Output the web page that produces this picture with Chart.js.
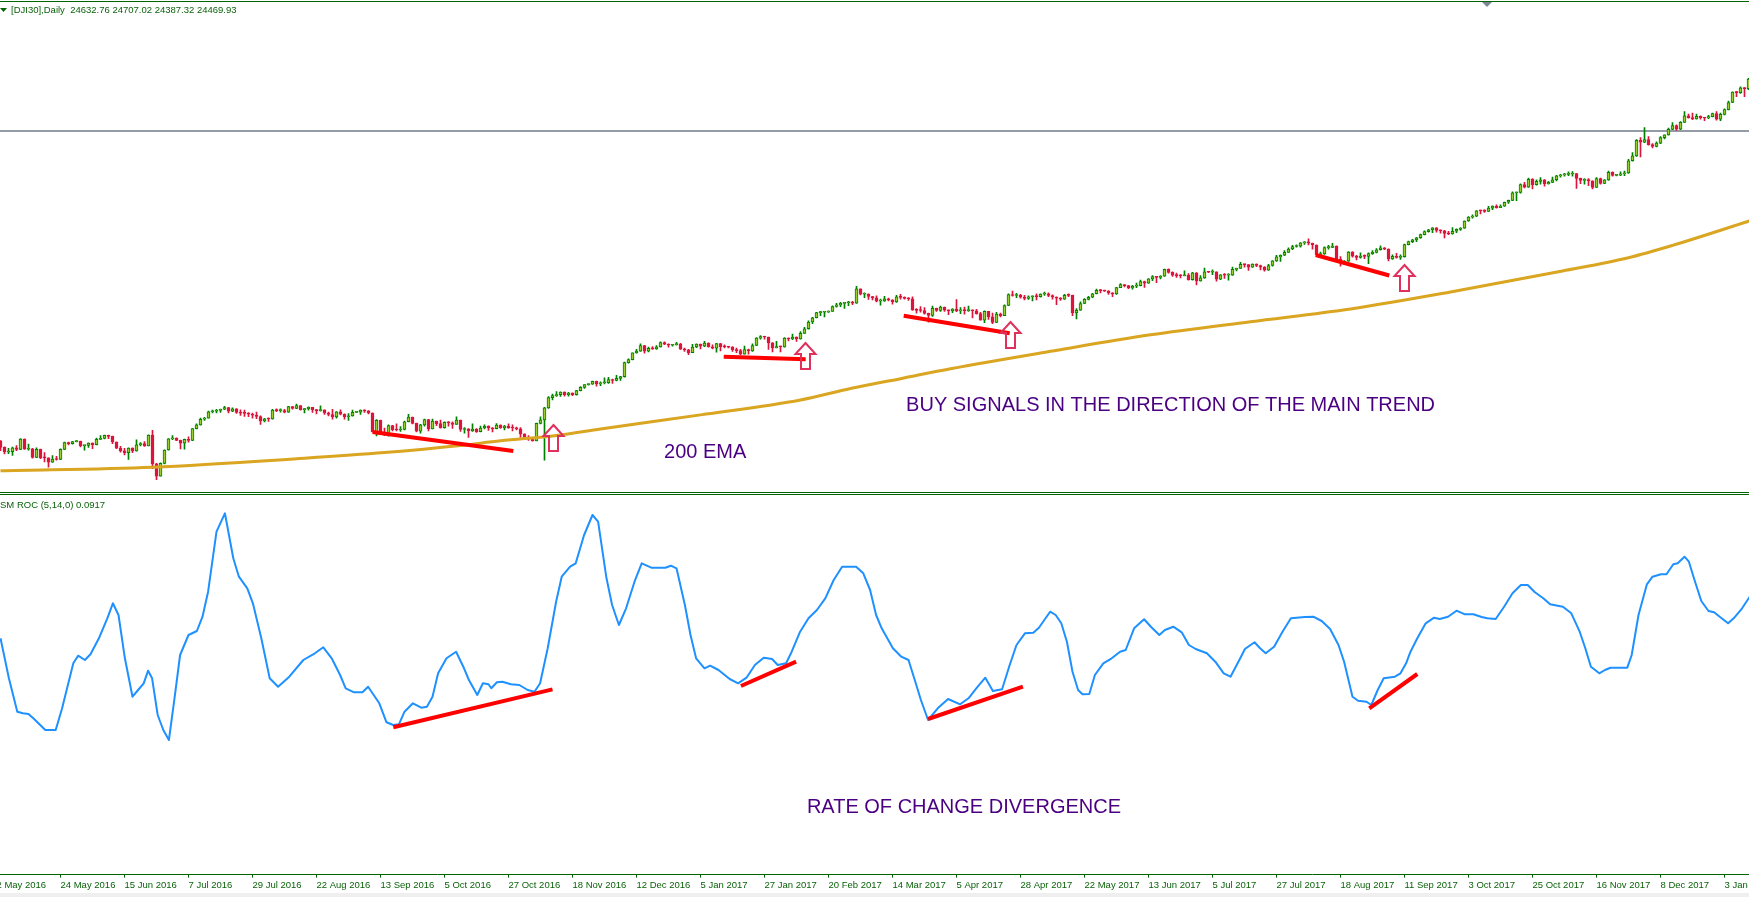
<!DOCTYPE html>
<html lang="en">
<head>
<meta charset="UTF-8">
<title>[DJI30],Daily</title>
<script src="https://cdn.jsdelivr.net/npm/chart.js"></script>
<style>
  html, body { margin: 0; padding: 0; background: #fff; overflow: hidden; }
  canvas { display: block; }
</style>
</head>
<body>
<canvas id="chart" width="1749" height="897"></canvas>
<script>
// daily bars, index 0 = 3 May 2016 ... 437 = 11 Jan 2018
const barOpen = [
  17891,17751,17651,17661,17741,17706,17928,17711,17721,17535,
  17711,17530,17527,17435,17501,17493,17706,17852,17828,17873,
  17880,17787,17790,17839,17807,17920,17938,18005,17985,17865,
  17732,17675,17640,17733,17675,17805,17830,17781,18011,17400,
  17140,17410,17695,17930,17949,17900,17841,17919,17896,18147,
  18227,18348,18372,18506,18517,18533,18559,18595,18517,18571,
  18493,18474,18472,18456,18432,18405,18314,18355,18352,18544,
  18529,18533,18496,18614,18576,18636,18552,18574,18598,18553,
  18529,18547,18481,18448,18395,18503,18454,18401,18419,18492,
  18500,18538,18526,18480,18085,18325,18067,18035,18212,18124,
  18120,18130,18294,18392,18261,18095,18228,18339,18143,18308,
  18254,18168,18281,18269,18240,18329,18129,18144,18099,18138,
  18086,18162,18203,18162,18146,18223,18169,18199,18170,18161,
  18142,18037,17960,17931,17888,18260,18333,18590,18808,18848,
  18869,18923,18868,18904,18868,18957,19024,19083,19090,19152,
  19098,19122,19124,19192,19170,19216,19252,19550,19615,19757,
  19796,19911,19793,19852,19843,19883,19975,19942,19919,19934,
  19945,19834,19820,19763,19882,19942,19899,19964,19887,19856,
  19954,19891,19886,19880,19827,19805,19732,19827,19800,19913,
  20069,20101,20094,19971,19864,19891,19885,20071,20052,20090,
  20054,20172,20269,20412,20504,20612,20620,20624,20640,20743,
  20776,20810,20822,20837,20812,21116,21003,21006,20954,20925,
  20856,20858,20903,20881,20837,20950,20935,20915,20906,20668,
  20661,20657,20597,20551,20702,20659,20728,20663,20650,20689,
  20648,20663,20656,20658,20651,20592,20453,20637,20523,20404,
  20579,20548,20764,20996,20975,20981,20941,20913,20950,20958,
  20951,21007,21012,20976,20943,20919,20897,20982,20980,20607,
  20663,20805,20895,20938,21012,21083,21080,21070,21029,21009,
  21144,21206,21184,21136,21174,21183,21272,21236,21328,21375,
  21360,21384,21529,21467,21410,21397,21395,21410,21311,21455,
  21287,21350,21479,21470,21478,21320,21414,21409,21409,21532,
  21553,21638,21630,21575,21641,21612,21580,21513,21613,21711,
  21797,21830,21891,21964,22016,22026,22093,22118,22085,22049,
  21844,21858,21994,21999,22025,21751,21675,21704,21900,21812,
  21783,21814,21808,21865,21892,21948,21988,21960,21753,21808,
  21785,21798,22057,22119,22158,22203,22268,22331,22371,22413,
  22359,22350,22296,22284,22341,22381,22405,22558,22642,22662,
  22775,22774,22761,22831,22873,22841,22872,22957,22997,23158,
  23163,23329,23274,23442,23329,23401,23434,23349,23377,23435,
  23516,23539,23548,23557,23563,23462,23422,23440,23409,23271,
  23458,23358,23430,23591,23526,23530,23558,23581,23837,23941,
  24272,24232,24290,24181,24141,24211,24329,24386,24505,24585,
  24509,24652,24792,24755,24727,24782,24754,24746,24774,24838,
  24719,24824,24923,25075,25296,25283,25386,25369
];
const barHigh = [
  17895,17760,17730,17755,17790,17935,17930,17820,17730,17740,
  17715,17640,17530,17575,17560,17720,17860,17860,17880,17895,
  17885,17800,17845,17845,17950,18000,18010,18010,17990,17870,
  17770,17730,17740,17740,17910,17850,17875,18015,18110,17410,
  17420,17700,17935,18000,17955,17905,17925,17975,18150,18250,
  18370,18390,18520,18540,18560,18565,18620,18600,18590,18575,
  18550,18540,18490,18480,18500,18420,18365,18380,18560,18570,
  18570,18560,18620,18620,18670,18640,18580,18610,18600,18560,
  18630,18550,18500,18560,18510,18550,18460,18470,18540,18510,
  18545,18550,18530,18485,18340,18330,18160,18230,18220,18250,
  18190,18310,18450,18395,18265,18240,18350,18345,18350,18310,
  18330,18290,18300,18290,18400,18330,18170,18150,18250,18150,
  18200,18230,18210,18170,18255,18230,18220,18250,18230,18180,
  18170,18040,18000,17960,18265,18400,18600,18830,18880,18935,
  18930,18930,18920,18910,18960,19040,19085,19100,19160,19160,
  19140,19225,19240,19200,19280,19260,19560,19630,19760,19830,
  19950,19920,19880,19890,19910,19990,19990,19950,19940,19980,
  19960,19860,19830,19940,19950,19945,20000,19970,19930,19960,
  19960,19930,19895,19890,19860,19830,19900,19840,19950,20080,
  20125,20110,20095,19975,20000,19900,20080,20075,20155,20100,
  20210,20300,20440,20510,20620,20640,20630,20650,20757,20810,
  20830,20830,20850,20850,21170,21120,21030,21010,20960,20970,
  20900,20960,20920,20890,20980,21000,20950,20930,20950,20700,
  20740,20720,20600,20750,20710,20750,20730,20670,20700,20890,
  20720,20730,20750,20670,20680,20620,20650,20640,20600,20620,
  20600,20780,21010,21070,21020,21000,20980,20970,20970,21010,
  21010,21050,21030,20990,20950,20930,21000,21010,20985,20700,
  20840,20910,20960,21020,21110,21100,21090,21080,21040,21150,
  21230,21210,21190,21190,21240,21305,21280,21335,21400,21380,
  21400,21535,21540,21480,21450,21420,21500,21440,21470,21460,
  21400,21560,21490,21520,21480,21420,21440,21440,21580,21560,
  21680,21640,21630,21650,21650,21620,21590,21640,21720,21830,
  21840,21930,21990,22040,22050,22100,22120,22180,22090,22050,
  21900,22010,22040,22085,22030,21800,21720,21910,21910,21830,
  21880,21840,21880,21930,21970,22030,21995,21965,21840,21870,
  21840,22070,22130,22170,22210,22280,22350,22380,22420,22420,
  22370,22360,22340,22420,22390,22420,22560,22650,22690,22780,
  22790,22800,22870,22880,22900,22900,22960,23000,23180,23170,
  23350,23380,23470,23460,23430,23480,23440,23400,23490,23530,
  23550,23570,23600,23610,23570,23470,23460,23460,23410,23480,
  23470,23440,23620,23600,23545,23600,23620,23870,24010,24290,
  24330,24540,24350,24200,24240,24350,24390,24530,24650,24600,
  24670,24880,24830,24850,24830,24790,24760,24800,24850,24880,
  24850,24940,25105,25300,25310,25410,25390,25590
];
const barLow = [
  17680,17610,17615,17580,17680,17700,17705,17690,17520,17530,
  17510,17440,17330,17430,17480,17490,17700,17800,17820,17865,
  17760,17690,17750,17720,17800,17915,17930,17935,17830,17725,
  17650,17590,17495,17640,17670,17780,17770,17780,17300,17063,
  17140,17400,17690,17915,17890,17715,17710,17860,17890,18140,
  18220,18320,18370,18480,18480,18490,18550,18480,18510,18470,
  18430,18410,18400,18370,18360,18240,18290,18300,18350,18510,
  18500,18480,18490,18560,18570,18540,18480,18540,18490,18460,
  18520,18450,18420,18350,18370,18440,18350,18320,18415,18485,
  18450,18490,18460,18080,17995,18030,18000,17990,18100,18100,
  18090,18120,18290,18250,18080,18050,18200,18100,18140,18210,
  18160,18160,18200,18150,18235,18090,18050,17960,18090,18070,
  18080,18140,18110,18080,18140,18150,18120,18150,18100,18120,
  17960,17950,17900,17880,17885,18250,17480,18580,18760,18830,
  18830,18840,18840,18850,18860,18950,19000,19070,19085,19050,
  19060,19100,19110,19110,19160,19170,19240,19540,19610,19750,
  19790,19750,19780,19830,19830,19880,19930,19880,19900,19920,
  19830,19790,19720,19760,19870,19840,19890,19880,19840,19770,
  19800,19860,19865,19790,19760,19720,19730,19730,19790,19910,
  20050,20050,19830,19780,19860,19780,19880,20010,20040,20000,
  20050,20170,20260,20380,20500,20550,20520,20615,20640,20730,
  20740,20700,20760,20780,20810,20990,20930,20890,20880,20840,
  20770,20850,20860,20790,20830,20900,20900,20870,20660,20600,
  20620,20580,20410,20530,20640,20640,20640,20570,20610,20630,
  20590,20580,20640,20500,20580,20450,20400,20470,20380,20400,
  20520,20545,20760,20960,20930,20920,20880,20890,20860,20880,
  20940,20980,20950,20900,20780,20870,20890,20950,20550,20480,
  20660,20800,20880,20930,21010,21030,21060,21000,20950,21000,
  21140,21160,21120,21110,21140,21180,21150,21230,21290,21250,
  21330,21380,21450,21380,21360,21350,21390,21300,21300,21200,
  21280,21340,21460,21420,21280,21310,21340,21300,21400,21500,
  21550,21580,21510,21570,21590,21520,21490,21510,21600,21700,
  21700,21820,21890,21950,22000,22000,22060,22050,21960,21830,
  21800,21850,21960,21990,21740,21600,21640,21700,21790,21730,
  21770,21760,21650,21850,21880,21940,21950,21710,21740,21770,
  21740,21790,22050,22100,22120,22190,22260,22320,22310,22320,
  22300,22200,22270,22280,22310,22360,22400,22550,22620,22650,
  22710,22740,22760,22800,22830,22840,22870,22930,22990,22990,
  23150,23260,23270,23240,23320,23340,23300,23340,23370,23410,
  23490,23510,23520,23510,23250,23350,23340,23310,23240,23270,
  23340,23350,23420,23510,23515,23520,23520,23570,23830,23930,
  23920,24220,24170,24110,24130,24200,24300,24380,24500,24480,
  24500,24650,24740,24710,24720,24720,24690,24730,24770,24700,
  24690,24810,24920,25070,25200,25270,25200,25350
];
const barClose = [
  17751,17651,17661,17741,17706,17928,17711,17721,17535,17711,
  17530,17527,17435,17501,17493,17706,17852,17828,17873,17880,
  17787,17790,17839,17807,17920,17938,18005,17985,17865,17732,
  17675,17640,17733,17675,17805,17830,17781,18011,17400,17140,
  17410,17695,17930,17949,17900,17841,17919,17896,18147,18227,
  18348,18372,18506,18517,18533,18559,18595,18517,18571,18493,
  18474,18472,18456,18432,18405,18314,18355,18352,18544,18529,
  18533,18496,18614,18576,18636,18552,18574,18598,18553,18529,
  18547,18481,18448,18395,18503,18454,18401,18419,18492,18500,
  18538,18526,18480,18085,18325,18067,18035,18212,18124,18120,
  18130,18294,18392,18261,18095,18228,18339,18143,18308,18254,
  18168,18281,18269,18240,18329,18129,18144,18099,18138,18086,
  18162,18203,18162,18146,18223,18169,18199,18170,18161,18142,
  18037,17960,17931,17888,18260,18333,18590,18808,18848,18869,
  18923,18868,18904,18868,18957,19024,19083,19090,19152,19098,
  19122,19124,19192,19170,19216,19252,19550,19615,19757,19796,
  19911,19793,19852,19843,19883,19975,19942,19919,19934,19945,
  19834,19820,19763,19882,19942,19899,19964,19887,19856,19954,
  19891,19886,19880,19827,19805,19732,19827,19800,19913,20069,
  20101,20094,19971,19864,19891,19885,20071,20052,20090,20054,
  20172,20269,20412,20504,20612,20620,20624,20640,20743,20776,
  20810,20822,20837,20812,21116,21003,21006,20954,20925,20856,
  20858,20903,20881,20837,20950,20935,20915,20906,20668,20661,
  20657,20597,20551,20702,20659,20728,20663,20650,20689,20648,
  20663,20656,20658,20651,20592,20453,20637,20523,20404,20579,
  20548,20764,20996,20975,20981,20941,20913,20950,20958,20951,
  21007,21012,20976,20943,20919,20897,20982,20980,20607,20663,
  20805,20895,20938,21012,21083,21080,21070,21029,21009,21144,
  21206,21184,21136,21174,21183,21272,21236,21328,21375,21360,
  21384,21529,21467,21410,21397,21395,21410,21311,21455,21287,
  21350,21479,21470,21478,21320,21414,21409,21409,21532,21553,
  21638,21630,21575,21641,21612,21580,21513,21613,21711,21797,
  21830,21891,21964,22016,22026,22093,22118,22085,22049,21844,
  21858,21994,21999,22025,21751,21675,21704,21900,21812,21783,
  21814,21808,21865,21892,21948,21988,21960,21753,21808,21785,
  21798,22057,22119,22158,22203,22268,22331,22371,22413,22359,
  22350,22296,22284,22341,22381,22405,22558,22642,22662,22775,
  22774,22761,22831,22873,22841,22872,22957,22997,23158,23163,
  23329,23274,23442,23329,23401,23434,23349,23377,23435,23516,
  23539,23548,23557,23563,23462,23422,23440,23409,23271,23458,
  23358,23430,23591,23526,23530,23558,23581,23837,23941,24272,
  24232,24290,24181,24141,24211,24329,24386,24505,24585,24509,
  24652,24792,24755,24727,24782,24754,24746,24774,24838,24719,
  24824,24923,25075,25296,25283,25386,25369,25575
];

// 200 EMA (bar index, price)
const emaBar = [0, 38, 76, 96, 115, 125, 139, 150, 175, 200, 212.5, 225, 237.5, 262.5, 287.5, 312.5, 337.5, 362.5, 390.5, 407, 418, 437.2];
const emaValue = [17255, 17330, 17520, 17640, 17790, 17890, 18000, 18140, 18440, 18756, 19000, 19209, 19420, 19790, 20140, 20420, 20690, 21050, 21496, 21779, 22040, 22558];

// SM ROC (5,14,0)
const rocBar = [0,2.1,4.2,5.6,7,8.4,11.2,13.8,15.4,18.2,19.4,21.1,22.5,24.6,26.7,28.1,29.5,31.1,33,34.4,35.8,36.9,37.9,39.3,40.7,42.1,43.5,44.9,47,49.1,50.5,51.9,54,56.1,58.2,59.6,61.7,63.1,65.2,67.3,69.4,72.2,75.7,78.6,80.7,82.8,84.9,86.3,88.4,90.5,91.9,93.3,94.7,96.5,98.2,99.6,101,103.1,105.2,106.6,108,109.4,111.5,113.9,115.7,117.1,119.2,120.6,122,122.7,124.1,125.5,127.6,129.7,131.8,133.5,134.9,136.8,138.9,140.3,142.4,143.8,145.9,148,149.4,151.5,152.9,154.6,156.4,158.5,160.3,162.7,166.2,167.6,169,171.1,172.5,173.9,176,177.4,179.5,182.3,184.4,186.5,188.6,190.8,192.9,194.3,196.4,197.8,199.9,202,204.1,206.2,208.3,210.4,213.9,215.7,217.4,218.9,220.3,223.1,225.2,227,228.7,230.1,231.9,234.3,236.9,239.9,242,244.1,246.2,248.1,250.4,252.3,254,256.1,258.2,259.6,262.4,263.8,265.2,266.6,268,269.4,270.5,272.2,273.6,275.7,277.8,279.9,281.3,283.4,285.9,287.6,289.7,291.1,293.2,295.3,297.1,298.8,301.6,303.7,305.8,307.5,310,311.1,313.5,314.9,316.3,318.4,320.5,322.6,326.1,328.2,330.3,332.4,334.5,335.9,338,339.4,341.5,342.7,344.3,345.8,348.6,350,351.4,352.5,354.2,356.3,358.4,359.8,361.9,364,366.1,368.2,370.3,371.7,373.8,375.9,378,380.1,381.8,383.6,385.7,387.4,390.6,392.7,394.8,396.2,397.6,399.7,401.1,402.5,406.7,407.8,409.5,411.6,413,415.1,416.5,418.2,419.3,421,422.1,423.5,425.2,427,428.4,429.8,431.9,433.3,435.4,437.3];
const rocValue = [-0.324,-0.724,-1.058,-1.074,-1.081,-1.131,-1.241,-1.241,-1.024,-0.574,-0.498,-0.541,-0.484,-0.324,-0.124,0.026,-0.091,-0.524,-0.908,-0.841,-0.774,-0.648,-0.724,-1.091,-1.241,-1.341,-0.924,-0.491,-0.291,-0.251,-0.108,0.142,0.742,0.926,0.476,0.292,0.176,0.026,-0.324,-0.724,-0.808,-0.708,-0.541,-0.474,-0.414,-0.524,-0.691,-0.824,-0.864,-0.864,-0.808,-0.891,-0.974,-1.164,-1.191,-1.184,-1.058,-0.974,-1.018,-1.008,-0.908,-0.674,-0.524,-0.458,-0.608,-0.741,-0.891,-0.774,-0.784,-0.824,-0.764,-0.758,-0.784,-0.791,-0.841,-0.858,-0.774,-0.424,0.042,0.292,0.392,0.426,0.709,0.909,0.842,0.276,0.009,-0.191,-0.024,0.242,0.426,0.382,0.382,0.402,0.376,0.009,-0.291,-0.524,-0.624,-0.598,-0.641,-0.731,-0.774,-0.718,-0.591,-0.518,-0.531,-0.591,-0.574,-0.458,-0.258,-0.124,-0.041,0.076,0.259,0.392,0.392,0.326,0.159,-0.091,-0.224,-0.424,-0.508,-0.541,-0.758,-0.941,-1.141,-1.024,-0.931,-0.984,-0.924,-0.818,-0.718,-0.851,-0.834,-0.591,-0.391,-0.274,-0.268,-0.218,-0.058,-0.091,-0.174,-0.358,-0.658,-0.841,-0.884,-0.881,-0.691,-0.574,-0.524,-0.458,-0.441,-0.224,-0.134,-0.208,-0.291,-0.241,-0.208,-0.264,-0.391,-0.431,-0.474,-0.558,-0.674,-0.708,-0.518,-0.431,-0.364,-0.424,-0.474,-0.408,-0.258,-0.124,-0.111,-0.108,-0.151,-0.231,-0.391,-0.558,-0.908,-0.948,-0.958,-0.991,-0.841,-0.724,-0.708,-0.674,-0.574,-0.458,-0.324,-0.174,-0.118,-0.131,-0.108,-0.048,-0.084,-0.084,-0.111,-0.124,-0.131,-0.008,0.126,0.209,0.209,0.136,0.076,0.016,-0.008,-0.074,-0.258,-0.424,-0.608,-0.674,-0.641,-0.618,-0.618,-0.491,-0.091,0.216,0.292,0.316,0.316,0.416,0.426,0.492,0.442,0.259,0.049,-0.051,-0.064,-0.108,-0.174,-0.124,-0.024,0.092];

// time axis labels (every 16 bars)
const tickBars = [-1, 15, 31, 47, 63, 79, 95, 111, 127, 143, 159, 175, 191, 207, 223, 239, 255, 271, 287, 303, 319, 335, 351, 367, 383, 399, 415, 431];
const tickLabels = ['2 May 2016', '24 May 2016', '15 Jun 2016', '7 Jul 2016', '29 Jul 2016', '22 Aug 2016', '13 Sep 2016', '5 Oct 2016',
  '27 Oct 2016', '18 Nov 2016', '12 Dec 2016', '5 Jan 2017', '27 Jan 2017', '20 Feb 2017', '14 Mar 2017', '5 Apr 2017', '28 Apr 2017',
  '22 May 2017', '13 Jun 2017', '5 Jul 2017', '27 Jul 2017', '18 Aug 2017', '11 Sep 2017', '3 Oct 2017', '25 Oct 2017', '16 Nov 2017',
  '8 Dec 2017', '3 Jan 2018'];

const bidPrice = 24469.93;
const headerText = '[DJI30],Daily  24632.76 24707.02 24387.32 24469.93';
const rocHeader = 'SM ROC (5,14,0) 0.0917';

// divergence lines drawn by hand on the chart: [bar, value] pairs
const priceTrends = [[[93, 18077], [128.2, 17673]], [[180.8, 19676], [201.3, 19621]], [[225.8, 20547], [252.3, 20173]], [[328.8, 21836], [347.2, 21401]]];
const rocTrends = [[[98.2, -1.214], [138, -0.835]], [[185.1, -0.801], [198.9, -0.558]], [[231.9, -1.131], [255.6, -0.808]], [[342.2, -1.024], [354.2, -0.681]]];
// buy arrows (bar, price of the tip)
const buyArrows = [[138.1, 18225], [201, 19974], [252.3, 20420], [350.8, 21613]];

// ---- layout / style ----
const X_MIN = -0.125, X_MAX = 437.125;
const Y_MIN = 8676, Y_MAX = 27252;      // price pane sits in the upper part
const R_MIN = -2.687, R_MAX = 6.059;    // roc pane sits in the lower part
const GREEN = '#006400', TXT = '#0b620b';
const FONT = '"Liberation Sans", Arial, sans-serif';

const notes = [
  { text: 'BUY SIGNALS IN THE DIRECTION OF THE MAIN TREND', x: 226.4, y: 18523, axis: 'y' },
  { text: '200 EMA', x: 165.9, y: 17525, axis: 'y' },
  { text: 'RATE OF CHANGE DIVERGENCE', x: 201.6, y: -2.068, axis: 'y2' }
];

const bull = barClose.map((c, i) => c >= barOpen[i]);
const bodies = barClose.map((c, i) => ({ x: i, y: [barOpen[i], c] }));
const wicks = barClose.map((c, i) => ({ x: i, y: [barLow[i], barHigh[i]] }));

const pts = arr => arr.map(p => ({ x: p[0], y: p[1] }));
const trendSet = (p, axis) => ({
  type: 'line', data: pts(p), yAxisID: axis, borderColor: '#ff0000', borderWidth: 4,
  borderCapStyle: 'butt', pointRadius: 0, order: 0
});

const decor = {
  id: 'decor',
  beforeDraw(chart) {
    const c = chart.ctx;
    c.save();
    c.fillStyle = '#fff';
    c.fillRect(0, 0, chart.width, chart.height);
    c.fillStyle = '#efefef';
    c.fillRect(0, 893, chart.width, 4);
    c.restore();
  },
  afterDatasetsDraw(chart) {
    const c = chart.ctx, xs = chart.scales.x;
    c.save();
    // up arrows
    buyArrows.forEach(a => {
      const cx = Math.round(xs.getPixelForValue(a[0])) + 0.5;
      const ty = Math.round(chart.scales.y.getPixelForValue(a[1]));
      c.beginPath();
      c.moveTo(cx, ty);
      c.lineTo(cx + 10, ty + 11);
      c.lineTo(cx + 4.5, ty + 11);
      c.lineTo(cx + 4.5, ty + 26);
      c.lineTo(cx - 4.5, ty + 26);
      c.lineTo(cx - 4.5, ty + 11);
      c.lineTo(cx - 10, ty + 11);
      c.closePath();
      c.lineJoin = 'miter';
      c.strokeStyle = '#e0305c';
      c.lineWidth = 2;
      c.stroke();
    });
    // text labels
    c.fillStyle = '#4b0082';
    c.font = '20px ' + FONT;
    c.textBaseline = 'alphabetic';
    notes.forEach(n => {
      c.fillText(n.text, xs.getPixelForValue(n.x), chart.scales[n.axis].getPixelForValue(n.y));
    });
    c.restore();
  },
  afterDraw(chart) {
    const c = chart.ctx, w = chart.width;
    c.save();
    c.fillStyle = GREEN;
    c.fillRect(0, 1, w, 1);
    c.fillRect(0, 492, w, 1);
    c.fillRect(0, 494, w, 1);
    // header triangle + text
    c.beginPath();
    c.moveTo(0, 8); c.lineTo(7, 8); c.lineTo(3.5, 12); c.closePath();
    c.fill();
    c.fillStyle = TXT;
    c.font = '9.5px ' + FONT;
    c.textBaseline = 'alphabetic';
    c.fillText(headerText, 11, 13);
    c.fillText(rocHeader, 0, 508);
    // shift marker
    c.fillStyle = '#7b8794';
    c.beginPath();
    c.moveTo(1482, 2); c.lineTo(1492, 2); c.lineTo(1487, 7); c.closePath();
    c.fill();
    c.restore();
  }
};

new Chart(document.getElementById('chart'), {
  type: 'bar',
  data: {
    datasets: [
      ...priceTrends.map(t => trendSet(t, 'y')),
      ...rocTrends.map(t => trendSet(t, 'y2')),
      {
        type: 'line', label: '200 EMA', yAxisID: 'y', order: 1,
        data: emaBar.map((x, k) => ({ x, y: emaValue[k] })),
        borderColor: '#daa520', borderWidth: 3, pointRadius: 0, cubicInterpolationMode: 'monotone'
      },
      {
        type: 'bar', label: 'body', yAxisID: 'y', order: 2, data: bodies,
        barThickness: 3, grouped: false, minBarLength: 1, borderSkipped: false, borderWidth: 1,
        backgroundColor: bull.map(b => b ? '#9acd32' : '#dc143c'),
        borderColor: bull.map(b => b ? '#008000' : '#dc143c')
      },
      {
        type: 'bar', label: 'wick', yAxisID: 'y', order: 3, data: wicks,
        barThickness: 1, grouped: false, borderWidth: 0,
        backgroundColor: bull.map(b => b ? '#008000' : '#dc143c')
      },
      {
        type: 'line', label: 'bid', yAxisID: 'y', order: 4,
        data: [{ x: X_MIN, y: bidPrice }, { x: X_MAX, y: bidPrice }],
        borderColor: '#6f7b88', borderWidth: 1.5, pointRadius: 0
      },
      {
        type: 'line', label: 'SM ROC', yAxisID: 'y2', order: 1,
        data: rocBar.map((x, k) => ({ x, y: rocValue[k] })),
        borderColor: '#1e90ff', borderWidth: 2, pointRadius: 0, borderJoinStyle: 'round'
      }
    ]
  },
  options: {
    responsive: false,
    animation: false,
    events: [],
    layout: { padding: { left: 0, right: 0, top: 0, bottom: 4 } },
    plugins: { legend: { display: false }, tooltip: { enabled: false } },
    scales: {
      x: {
        type: 'linear', min: X_MIN, max: X_MAX, offset: false,
        grid: { display: true, offset: false, drawOnChartArea: false, drawTicks: true, tickLength: 3, color: GREEN },
        border: { display: true, color: GREEN, width: 1 },
        afterBuildTicks: s => { s.ticks = tickBars.map(v => ({ value: v })); },
        afterFit: s => { s.paddingLeft = 0; s.paddingRight = 0; },
        ticks: {
          autoSkip: false, maxRotation: 0, minRotation: 0, align: 'start', padding: 2,
          color: TXT, font: { family: FONT, size: 9.5 },
          callback: (v, k) => tickLabels[k]
        }
      },
      y: { display: false, min: Y_MIN, max: Y_MAX },
      y2: { display: false, min: R_MIN, max: R_MAX }
    }
  },
  plugins: [decor]
});
</script>
</body>
</html>
